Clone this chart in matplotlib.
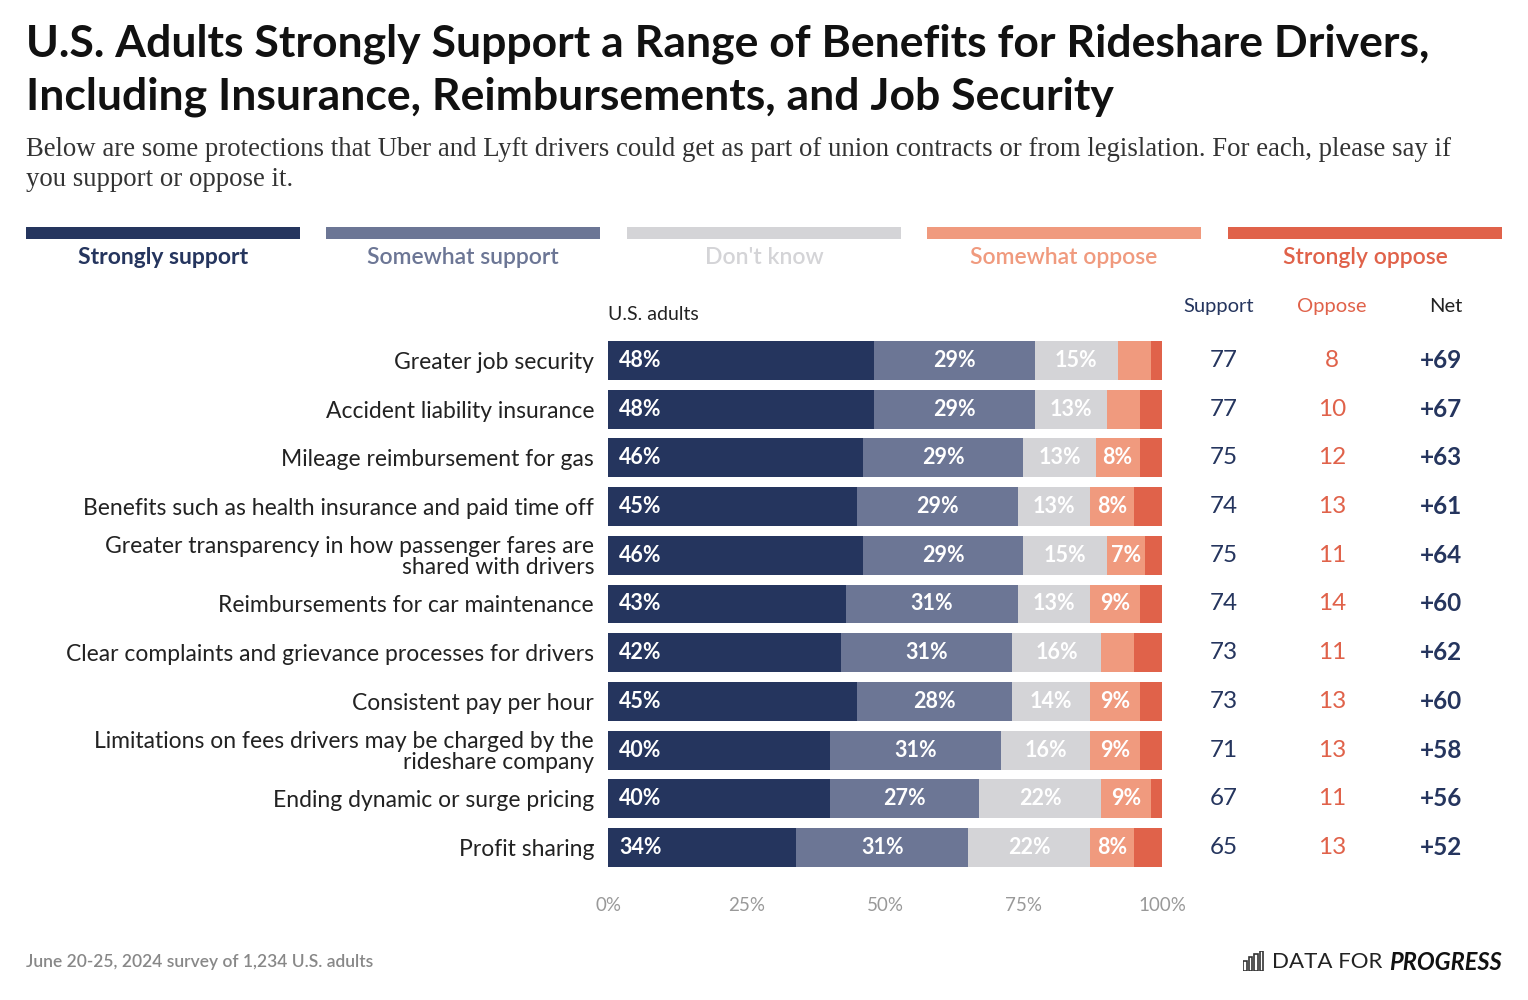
import matplotlib
matplotlib.use("Agg")
import matplotlib.pyplot as plt

items = ["Greater job security", "Accident liability insurance", "Mileage reimbursement for gas",
         "Benefits such as health insurance and paid time off",
         "Greater transparency in how passenger fares are\nshared with drivers",
         "Reimbursements for car maintenance", "Clear complaints and grievance processes for drivers",
         "Consistent pay per hour", "Limitations on fees drivers may be charged by the\nrideshare company",
         "Ending dynamic or surge pricing", "Profit sharing"]
strong_sup = [48, 48, 46, 45, 46, 43, 42, 45, 40, 40, 34]
some_sup = [29, 29, 29, 29, 29, 31, 31, 28, 31, 27, 31]
dont_know = [15, 13, 13, 13, 15, 13, 16, 14, 16, 22, 22]
some_opp = [6, 6, 8, 8, 7, 9, 6, 9, 9, 9, 8]
strong_opp = [2, 4, 4, 5, 4, 5, 5, 4, 4, 2, 5]
support = [77, 77, 75, 74, 75, 74, 73, 73, 71, 67, 65]
oppose = [8, 10, 12, 13, 11, 14, 11, 13, 13, 11, 13]
net = [69, 67, 63, 61, 64, 60, 62, 60, 58, 56, 52]
cats = ["Strongly support", "Somewhat support", "Don't know", "Somewhat oppose", "Strongly oppose"]
colors = ["#25355e", "#6c7695", "#d4d4d7", "#f09a7e", "#e0624a"]

plt.rcParams['font.family'] = ['Lato', 'DejaVu Sans']
W, H = 1528, 1000
fig = plt.figure(figsize=(W/100, H/100), dpi=100)

def fx(x): return x / W
def fy(y): return 1 - y / H

fig.text(fx(26), fy(44), "U.S. Adults Strongly Support a Range of Benefits for Rideshare Drivers,",
         fontsize=32, fontweight='bold', color='#111111', va='center')
fig.text(fx(26), fy(97), "Including Insurance, Reimbursements, and Job Security",
         fontsize=32, fontweight='bold', color='#111111', va='center')
fig.text(fx(26), fy(149), "Below are some protections that Uber and Lyft drivers could get as part of union contracts or from legislation. For each, please say if",
         fontsize=19.3, family='Liberation Serif', color='#333333', va='center')
fig.text(fx(26), fy(180), "you support or oppose it.",
         fontsize=19.3, family='Liberation Serif', color='#333333', va='center')

lx = [26, 326, 627, 927, 1228]
for i in range(5):
    la = fig.add_axes([fx(lx[i]), fy(239), fx(274), 12/H])
    la.axis('off')
    la.add_patch(plt.Rectangle((0, 0), 1, 1, color=colors[i], transform=la.transAxes))
    fig.text(fx(lx[i] + 137), fy(258), cats[i], fontsize=16.5, fontweight='bold' if i == 0 else 'semibold',
             color=colors[i], ha='center', va='center')

ax = fig.add_axes([fx(608), fy(872), fx(554), (872-336)/H])
series = [strong_sup, some_sup, dont_know, some_opp, strong_opp]
n = len(items)
ys = list(range(n))
left = [0]*n
for s, vals in enumerate(series):
    ax.barh(ys, vals, left=left, color=colors[s], height=0.8, linewidth=0)
    for i in range(n):
        v = vals[i]
        if v >= 7:
            if s == 0:
                ax.text(left[i] + 2, i, f"{v}%", color='white', fontweight='bold', fontsize=15.5, va='center', ha='left')
            else:
                ax.text(left[i] + v/2, i, f"{v}%", color='white', fontweight='bold', fontsize=15.5, va='center', ha='center')
    left = [left[i] + vals[i] for i in range(n)]
ax.set_xlim(0, 100)
ax.set_ylim(n - 0.5, -0.5)
for sp in ax.spines.values():
    sp.set_visible(False)
ax.set_yticks(ys)
ax.set_yticklabels(items, fontsize=16.5, color='#222222', linespacing=1.0)
ax.tick_params(axis='y', length=0, pad=10)
ax.set_xticks([0, 25, 50, 75, 100])
ax.set_xticklabels(["0%", "25%", "50%", "75%", "100%"], fontsize=13.5, color='#999999')
ax.tick_params(axis='x', length=0, pad=18)
ax.text(0, -0.95, "U.S. adults", fontsize=14, color='#222222', va='center', ha='left')

fig.text(fx(1219), fy(307), "Support", fontsize=14.5, color='#25355e', ha='center', va='center')
fig.text(fx(1332), fy(307), "Oppose", fontsize=14.5, color='#e0624a', ha='center', va='center')
fig.text(fx(1446), fy(307), "Net", fontsize=14.5, color='#222222', ha='center', va='center')
off = 608/554*100
for i in range(n):
    ax.text(1224/554*100 - off, i, str(support[i]), fontsize=17.5, color='#25355e', ha='center', va='center', clip_on=False)
    ax.text(1332/554*100 - off, i, str(oppose[i]), fontsize=17.5, color='#e0624a', ha='center', va='center', clip_on=False)
    ax.text(1441/554*100 - off, i, f"+{net[i]}", fontsize=17.5, fontweight='bold', color='#25355e', ha='center', va='center', clip_on=False)

fig.text(fx(26), fy(962), "June 20-25, 2024 survey of 1,234 U.S. adults", fontsize=12.5, color='#888888', fontweight='semibold', va='center')
fig.text(fx(1272), fy(962), "DATA FOR", fontsize=16, color='#222222', va='center', ha='left')
fig.text(fx(1502), fy(962), "PROGRESS", fontsize=17, color='#111111', va='center', ha='right',
         fontweight='bold', fontstyle='italic')
la = fig.add_axes([fx(1243), fy(971), fx(22), 20/H]); la.axis('off')
for k, h in enumerate([0.5, 0.7, 0.85, 1.0]):
    la.add_patch(plt.Rectangle((k*0.25, 0), 0.16, h, fill=False, ec='#333333', lw=1.2, transform=la.transAxes))
fig.savefig("out.png", dpi=100, facecolor='white')
